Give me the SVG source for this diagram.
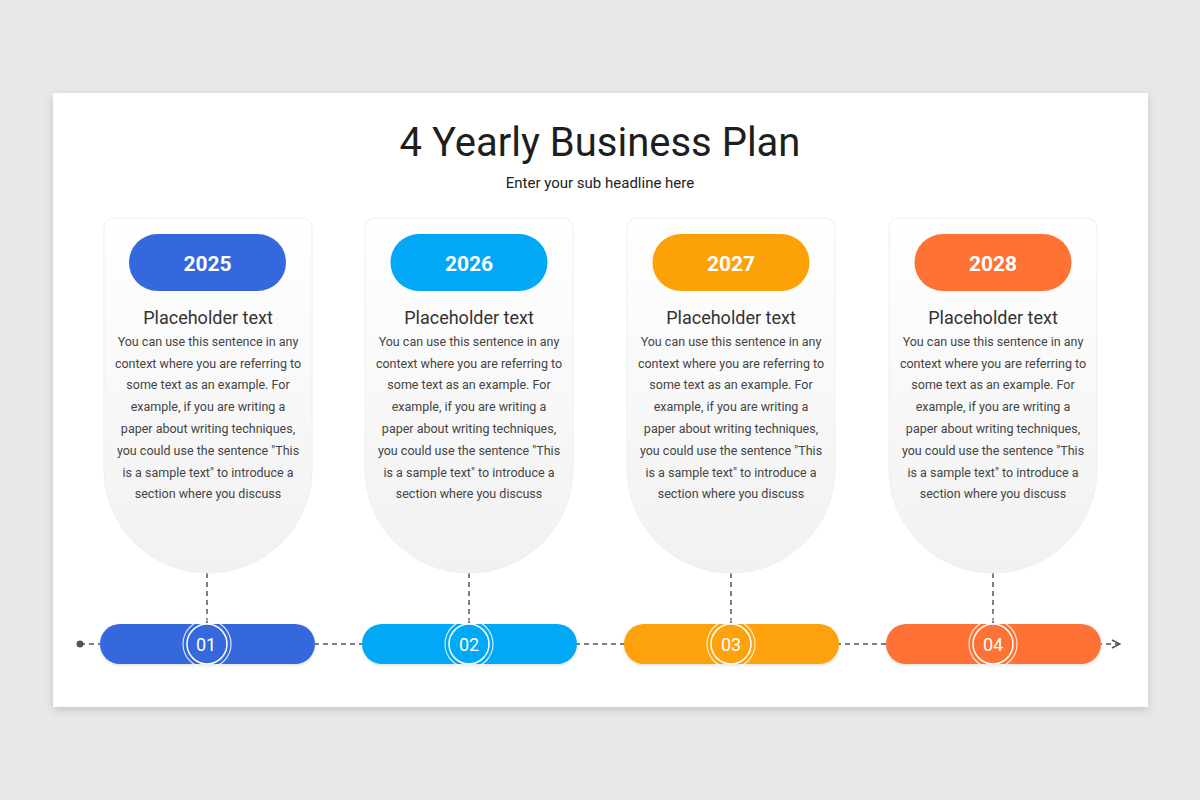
<svg xmlns="http://www.w3.org/2000/svg" width="1200" height="800" viewBox="0 0 1200 800">
<defs>
<linearGradient id="cardGrad" x1="0" y1="0" x2="0" y2="1">
<stop offset="0" stop-color="#ffffff"/>
<stop offset="1" stop-color="#f1f1f1"/>
</linearGradient>
<filter id="shadow" x="-5%" y="-5%" width="110%" height="115%">
<feDropShadow dx="0" dy="3" stdDeviation="4" flood-color="#000" flood-opacity="0.15"/>
</filter>
<filter id="pillShadow" x="-10%" y="-20%" width="120%" height="150%">
<feDropShadow dx="0" dy="1.5" stdDeviation="1.5" flood-color="#000" flood-opacity="0.12"/>
</filter>
<marker id="arrow" viewBox="0 0 10 10" refX="9" refY="5" markerWidth="10" markerHeight="10" markerUnits="userSpaceOnUse" orient="auto">
<path d="M1,1 L9,5 L1,9" fill="none" stroke="#555" stroke-width="1.4"/>
</marker>
<path id="cardShape" d="M-94,0 H94 A10,10 0 0 1 104,10 V251 A104,104 0 0 1 -104,251 V10 A10,10 0 0 1 -94,0 Z"/>
</defs>
<style>
.title{font-family:Roboto,"Liberation Sans",sans-serif;font-size:40px;fill:#1e1e1e;text-anchor:middle}
.sub{font-family:Roboto,"Liberation Sans",sans-serif;font-size:15px;fill:#222;text-anchor:middle}
.year{font-family:Roboto,"Liberation Sans",sans-serif;font-size:21px;font-weight:bold;fill:#fff;text-anchor:middle}
.head{font-family:Roboto,"Liberation Sans",sans-serif;font-size:18px;fill:#333;text-anchor:middle}
.body{font-family:Roboto,"Liberation Sans",sans-serif;font-size:12.5px;fill:#444;text-anchor:middle}
.num{font-family:Roboto,"Liberation Sans",sans-serif;font-size:18px;fill:#fff;text-anchor:middle}
.card{fill:url(#cardGrad);stroke:#efefef;stroke-width:1}
.dash{stroke:#555;stroke-width:1.5;stroke-dasharray:5,4;fill:none}
.ring{fill:none;stroke:#fff}
</style>
<rect x="0" y="0" width="1200" height="800" fill="#e9e7e9"/>
<rect x="53" y="93" width="1095" height="614" fill="#ffffff" filter="url(#shadow)"/>

<text class="title" x="600" y="156">4 Yearly Business Plan</text>
<text class="sub" x="600" y="188">Enter your sub headline here</text>

<g id="connectors">
<line class="dash" x1="80" y1="644" x2="1120" y2="644" marker-end="url(#arrow)"/>
<circle cx="80" cy="644" r="3.5" fill="#555"/>
<line class="dash" x1="207" y1="573" x2="207" y2="624"/>
<line class="dash" x1="469" y1="573" x2="469" y2="624"/>
<line class="dash" x1="731" y1="573" x2="731" y2="624"/>
<line class="dash" x1="993" y1="573" x2="993" y2="624"/>
</g>

<g id="node-2025">
<use href="#cardShape" class="card" x="208" y="218"/>
<rect x="129" y="234" width="157" height="57" rx="28.5" fill="#3567dd"/>
<text class="year" x="207.5" y="270.5">2025</text>
<text class="head" x="208" y="324">Placeholder text</text>
<text class="body" x="208" y="346">You can use this sentence  in any</text>
<text class="body" x="208" y="368">context  where you are referring to</text>
<text class="body" x="208" y="389">some text as an example. For</text>
<text class="body" x="208" y="411">example, if you are writing a</text>
<text class="body" x="208" y="433">paper about writing techniques,</text>
<text class="body" x="208" y="455">you could use the sentence  "This</text>
<text class="body" x="208" y="477">is a sample text" to introduce a</text>
<text class="body" x="208" y="498">section  where you discuss</text>
</g>
<g id="step-01">
<rect x="100" y="624" width="215" height="40" rx="20" fill="#3567dd" filter="url(#pillShadow)"/>
<circle class="ring" cx="207" cy="644" r="24" stroke-width="1.2" opacity="0.8"/>
<circle class="ring" cx="207" cy="644" r="20" stroke-width="1.5"/>
<text class="num" x="206" y="650.5">01</text>
</g>

<g id="node-2026">
<use href="#cardShape" class="card" x="469" y="218"/>
<rect x="390.5" y="234" width="157" height="57" rx="28.5" fill="#02a8f6"/>
<text class="year" x="469" y="270.5">2026</text>
<text class="head" x="469" y="324">Placeholder text</text>
<text class="body" x="469" y="346">You can use this sentence  in any</text>
<text class="body" x="469" y="368">context  where you are referring to</text>
<text class="body" x="469" y="389">some text as an example. For</text>
<text class="body" x="469" y="411">example, if you are writing a</text>
<text class="body" x="469" y="433">paper about writing techniques,</text>
<text class="body" x="469" y="455">you could use the sentence  "This</text>
<text class="body" x="469" y="477">is a sample text" to introduce a</text>
<text class="body" x="469" y="498">section  where you discuss</text>
</g>
<g id="step-02">
<rect x="362" y="624" width="215" height="40" rx="20" fill="#02a8f6" filter="url(#pillShadow)"/>
<circle class="ring" cx="469" cy="644" r="24" stroke-width="1.2" opacity="0.8"/>
<circle class="ring" cx="469" cy="644" r="20" stroke-width="1.5"/>
<text class="num" x="469" y="650.5">02</text>
</g>

<g id="node-2027">
<use href="#cardShape" class="card" x="731" y="218"/>
<rect x="652.5" y="234" width="157" height="57" rx="28.5" fill="#fda108"/>
<text class="year" x="731" y="270.5">2027</text>
<text class="head" x="731" y="324">Placeholder text</text>
<text class="body" x="731" y="346">You can use this sentence  in any</text>
<text class="body" x="731" y="368">context  where you are referring to</text>
<text class="body" x="731" y="389">some text as an example. For</text>
<text class="body" x="731" y="411">example, if you are writing a</text>
<text class="body" x="731" y="433">paper about writing techniques,</text>
<text class="body" x="731" y="455">you could use the sentence  "This</text>
<text class="body" x="731" y="477">is a sample text" to introduce a</text>
<text class="body" x="731" y="498">section  where you discuss</text>
</g>
<g id="step-03">
<rect x="624" y="624" width="215" height="40" rx="20" fill="#fda108" filter="url(#pillShadow)"/>
<circle class="ring" cx="731" cy="644" r="24" stroke-width="1.2" opacity="0.8"/>
<circle class="ring" cx="731" cy="644" r="20" stroke-width="1.5"/>
<text class="num" x="731" y="650.5">03</text>
</g>

<g id="node-2028">
<use href="#cardShape" class="card" x="993" y="218"/>
<rect x="914.5" y="234" width="157" height="57" rx="28.5" fill="#fe7234"/>
<text class="year" x="993" y="270.5">2028</text>
<text class="head" x="993" y="324">Placeholder text</text>
<text class="body" x="993" y="346">You can use this sentence  in any</text>
<text class="body" x="993" y="368">context  where you are referring to</text>
<text class="body" x="993" y="389">some text as an example. For</text>
<text class="body" x="993" y="411">example, if you are writing a</text>
<text class="body" x="993" y="433">paper about writing techniques,</text>
<text class="body" x="993" y="455">you could use the sentence  "This</text>
<text class="body" x="993" y="477">is a sample text" to introduce a</text>
<text class="body" x="993" y="498">section  where you discuss</text>
</g>
<g id="step-04">
<rect x="886" y="624" width="215" height="40" rx="20" fill="#fe7234" filter="url(#pillShadow)"/>
<circle class="ring" cx="993" cy="644" r="24" stroke-width="1.2" opacity="0.8"/>
<circle class="ring" cx="993" cy="644" r="20" stroke-width="1.5"/>
<text class="num" x="993" y="650.5">04</text>
</g>
</svg>
